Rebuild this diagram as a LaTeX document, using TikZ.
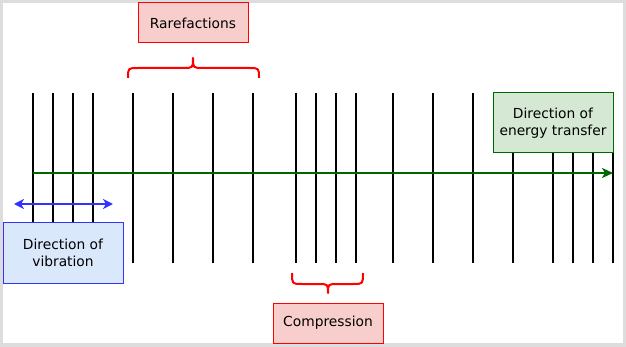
\documentclass[tikz,border=0pt]{standalone}
\usepackage{fontspec}
\setmainfont{DejaVu Sans}
\usetikzlibrary{arrows.meta}
\definecolor{redfill}{HTML}{F8CECC}
\definecolor{bluefill}{HTML}{DAE8FC}
\definecolor{greenfill}{HTML}{D5E8D4}
\definecolor{bluestroke}{HTML}{3333FF}
\definecolor{greenstroke}{HTML}{006600}
\definecolor{framegray}{HTML}{DDDDDD}
\begin{document}
\begin{tikzpicture}[x=1pt,y=-1pt,
  wave/.style={black,line width=2pt},
  labelbox/.style={draw,line width=1pt,align=center,inner sep=0pt,font=\fontsize{13.8}{16.6}\selectfont,minimum width=110pt,minimum height=40pt},
  redbox/.style={labelbox,fill=redfill,draw=red},
  bluebox/.style={labelbox,fill=bluefill,draw=bluestroke,minimum width=120pt,minimum height=60pt},
  greenbox/.style={labelbox,fill=greenfill,draw=greenstroke,minimum width=120pt,minimum height=60pt},
  bracestyle/.style={red,line width=2pt,line join=round}
]
\useasboundingbox (0,0) rectangle (626,347);
\fill[framegray] (0,0) rectangle (626,347);
\fill[white] (3,3) rectangle (623,343);
% wave fronts
\foreach \x in {33,53,73,93,133,173,213,253,296,316,336,356,393,433,473,513,553,573,593,613}
  \draw[wave] (\x,93) -- (\x,263);
% energy arrow
\coordinate (eS) at (33,173);
\coordinate (eE) at (613,173);
\draw[greenstroke,line width=2.2pt,-{Stealth[length=11pt,width=10pt,inset=3pt]}] (eS) -- (eE);
% vibration arrow
\coordinate (vS) at (14,204);
\coordinate (vE) at (113,204);
\draw[bluestroke,line width=2pt,{Stealth[length=10pt,width=10pt,inset=3pt]}-{Stealth[length=10pt,width=10pt,inset=3pt]}] (vS) -- (vE);
% boxes
\node[redbox] (rare) at (193,23) {Rarefactions};
\node[redbox] (comp) at (328,323) {Compression};
\node[bluebox] (vib) at (63,253) {Direction of\\vibration};
\node[greenbox] (energy) at (553,123) {Direction of\\energy transfer};
% braces
\draw[bracestyle] (128,78) .. controls (128,68) .. (138,68) -- (183,68) .. controls (193,68) .. (193,58)
  .. controls (193,68) .. (203,68) -- (249,68) .. controls (259,68) .. (259,78);
\draw[bracestyle] (292,273) .. controls (292,284) .. (302,284) -- (318,284) .. controls (328,284) .. (328,293)
  .. controls (328,284) .. (338,284) -- (353,284) .. controls (363,284) .. (363,273);
\end{tikzpicture}
\end{document}
